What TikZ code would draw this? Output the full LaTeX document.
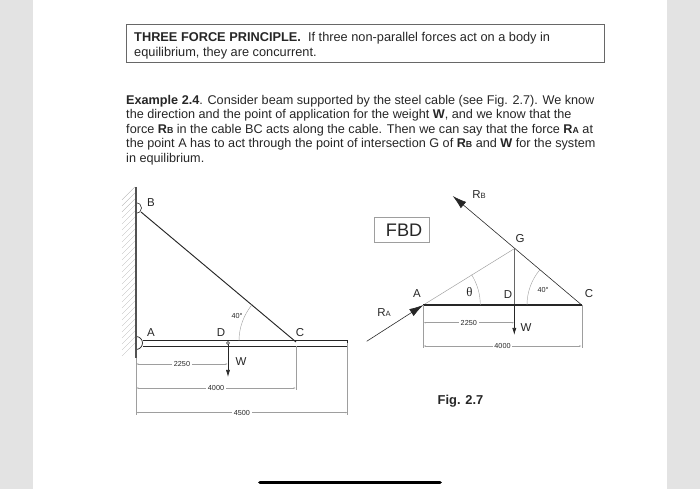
\documentclass[tikz,border=0pt]{standalone}
\usepackage{fontspec}
\setmainfont{Liberation Sans}
\newfontfamily\thetafont{Liberation Serif}
\usetikzlibrary{arrows.meta}
\definecolor{pagegray}{rgb}{0.89, 0.89, 0.89}
\definecolor{dimgray}{rgb}{0.62, 0.62, 0.62}
\definecolor{inkgray}{rgb}{0.15, 0.15, 0.15}
\tikzstyle{every picture}=[x=0.03cm,y=-0.03cm]
\tikzstyle{lbl}=[inner sep=0pt,text=inkgray,font=\fontsize{9.8}{11}\selectfont]
\tikzstyle{dimlbl}=[inner sep=1.5pt,fill=white,text=inkgray,font=\fontsize{6.2}{7}\selectfont]
\tikzstyle{para}=[inner sep=0pt,anchor=north west,align=left,text=inkgray,font=\fontsize{10.8}{12.4}\selectfont]
\tikzstyle{dimline}=[dimgray,line width=0.35pt,{Latex[length=2pt,width=1.2pt]}-{Latex[length=2pt,width=1.2pt]}]
\tikzstyle{extline}=[dimgray,line width=0.35pt]
\tikzstyle{force}=[inkgray,line width=0.6pt,-{Latex[length=6pt,width=3.5pt]}]
\tikzstyle{bigforce}=[inkgray,line width=0.5pt,-{Latex[length=12pt,width=7pt]}]
\newcommand{\rsub}[2]{#1{\fontsize{6.5}{7}\selectfont #2}}
\newcommand{\bsub}[2]{\textbf{#1{\fontsize{7.5}{8}\selectfont #2}}}

\begin{document}
\begin{tikzpicture}
  \useasboundingbox (0,0) rectangle (700,489);
  \fill[pagegray] (0,0) rectangle (33,489);
  \fill[pagegray] (667,0) rectangle (700,489);

  % text blocks
  \node[draw=inkgray!70,line width=0.7pt,minimum width=478*0.03cm,minimum height=38.4*0.03cm,inner sep=0pt] (rulebox) at (365,43.5) {};
  \node[para,font=\fontsize{10.9}{12.4}\selectfont] (ruletxt) at (134,32) {\textbf{THREE FORCE PRINCIPLE.}\ \ If three non-parallel forces act on a body in\\equilibrium, they are concurrent.};
  \node[para] (extxt) at (126,95) {\textbf{Example 2.4}. Consider beam supported by the steel cable (see Fig. 2.7). We know\\the direction and the point of application for the weight \textbf{W}, and we know that the\\force \bsub{R}{B} in the cable BC acts along the cable. Then we can say that the force \bsub{R}{A} at\\the point A has to act through the point of intersection G of \bsub{R}{B} and \textbf{W} for the system\\in equilibrium.};

  % beam with cable
  \foreach \y in {200,206,...,358} {
    \draw[dimgray!80,line width=0.3pt] (122,\y) -- (135,\y-13);
  }
  \coordinate (wt) at (136,187);
  \coordinate (wb) at (136,358);
  \coordinate (lA) at (136,343);
  \coordinate (lB) at (136,208);
  \coordinate (lC) at (296,342);
  \coordinate (lD) at (228,343);
  \coordinate (lE) at (347.7,343);
  \coordinate (lW) at (228,377);
  \draw[inkgray,line width=0.5pt] (136,202.5) arc (-90:90:5.5);
  \draw[inkgray,line width=0.6pt] (136,336.5) arc (-90:90:6.5);
  \draw[inkgray,line width=0.7pt] (142.5,340.3) -- (347.7,340.3) -- (347.7,346.3) -- (142.5,346.3);
  \draw[inkgray!80,line width=0.9pt] (wt) -- (wb);
  \draw[inkgray,line width=0.8pt] (141,212) -- (lC);
  \draw[force] (lD) -- (lW);
  \draw[inkgray,line width=0.4pt,fill=white] (lD) circle (1.5);
  \draw[dimgray,line width=0.35pt] (239,341) arc (180:220:57);
  \draw[extline] (296,346) -- (296,390);
  \draw[extline] (lE) -- (347.7,415);
  \draw[extline] (wb) -- (136,415);
  \draw[dimline] (136,364) -- node[dimlbl] (d1) {2250} (228,364);
  \draw[dimline] (136,388) -- node[dimlbl] (d2) {4000} (296,388);
  \draw[dimline] (136,412.6) -- node[dimlbl] (d3) {4500} (347.7,412.6);
  \node[lbl] (tB) at (151,203) {B};
  \node[lbl] (tA) at (151,333) {A};
  \node[lbl] (tD) at (221,333) {D};
  \node[lbl] (tC) at (300,333) {C};
  \node[lbl] (tW) at (241,362) {W};
  \node[dimlbl,fill=none] (t40) at (237,316) {40\textdegree};

  % free body diagram
  \node[draw=dimgray,line width=0.6pt,minimum width=55.3*0.03cm,minimum height=25.4*0.03cm,inner sep=0pt,text=inkgray,font=\fontsize{15.5}{17}\selectfont] (fbd) at (401.6,230) {\ FBD};
  \coordinate (fA) at (423.3,305);
  \coordinate (fC) at (581.7,305);
  \coordinate (fD) at (514.3,305);
  \coordinate (fG) at (514.3,248.7);
  \coordinate (fR) at (452.7,196);
  \coordinate (fS) at (366.7,341.3);
  \coordinate (fW) at (514.3,335);
  \draw[dimgray,line width=0.4pt] (fA) -- (fG);
  \draw[bigforce] (fC) -- (fR);
  \draw[bigforce] (fS) -- (fA);
  \draw[inkgray!70,line width=0.5pt] (fG) -- (fD);
  \draw[force] (fD) -- (fW);
  \draw[inkgray,line width=1.2pt] (fA) -- (fC);
  \draw[dimgray,line width=0.35pt] (480.3,305) arc (0:-32:57);
  \draw[dimgray,line width=0.35pt] (527,305) arc (180:220:54.7);
  \draw[extline] (fA) -- (423.3,348);
  \draw[extline] (fC) -- (581.7,348);
  \draw[dimline] (423.3,322.7) -- node[dimlbl] (d4) {2250} (514.3,322.7);
  \draw[dimline] (423.3,346) -- node[dimlbl] (d5) {4000} (581.7,346);
  \node[lbl] (sA) at (417,294) {A};
  \node[lbl] (sC) at (589,293.5) {C};
  \node[lbl] (sD) at (508,295) {D};
  \node[lbl] (sG) at (520,239) {G};
  \node[lbl] (sW) at (526,328) {W};
  \node[lbl] (sRB) at (479,195) {\rsub{R}{B}};
  \node[lbl] (sRA) at (384,313) {\rsub{R}{A}};
  \node[lbl,font=\fontsize{11}{12}\thetafont] (sth) at (469.5,292) {θ};
  \node[dimlbl,fill=none] (s40) at (543,290) {40\textdegree};
  \node[lbl,font=\fontsize{11}{12}\selectfont\bfseries] (figlbl) at (460.5,401) {Fig. 2.7};

  % phone bar
  \draw[black,line width=3.2pt,line cap=round] (260,482.5) -- (440,482.5);
\end{tikzpicture}
\end{document}
